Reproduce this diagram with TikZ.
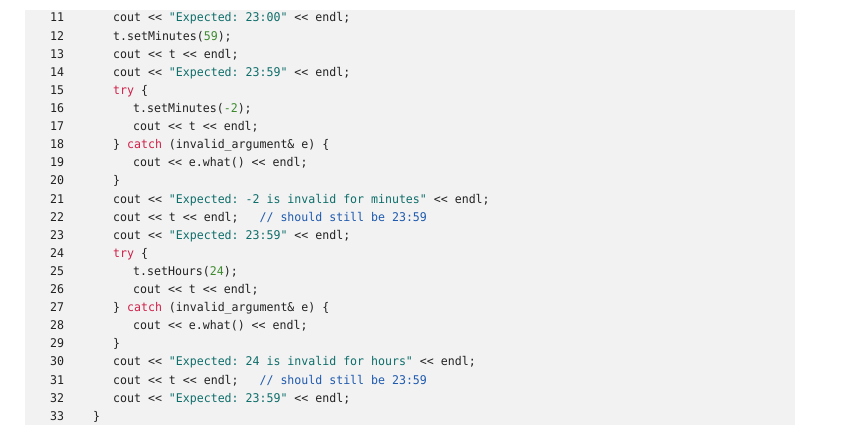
\documentclass[tikz,border=0pt]{standalone}
\usepackage{fontspec}
\setmonofont[FakeStretch=0.965]{DejaVu Sans Mono}
\definecolor{bg}{HTML}{F2F2F2}
\definecolor{str}{HTML}{0E6E6A}
\definecolor{num}{HTML}{3D8A2E}
\definecolor{kw}{HTML}{D0204A}
\definecolor{cm}{HTML}{1F5AAE}
\definecolor{txt}{HTML}{222222}
\newcommand{\Str}[1]{\textcolor{str}{#1}}
\newcommand{\Num}[1]{\textcolor{num}{#1}}
\newcommand{\Kw}[1]{\textcolor{kw}{#1}}
\newcommand{\Cm}[1]{\textcolor{cm}{#1}}
\begin{document}
\begin{tikzpicture}[x=1pt,y=-1pt,
  ln/.style={anchor=base west,inner sep=0pt,font=\ttfamily\fontsize{12}{12}\selectfont,text=txt}]
\useasboundingbox (0,0) rectangle (867,436);
\fill[bg] (25,10) rectangle (795,425) node[coordinate](box){};
\foreach \n/\ind/\code [count=\i from 0] in {
11/0/{cout << \Str{"Expected: 23:00"} << endl;},
12/0/{t.setMinutes(\Num{59});},
13/0/{cout << t << endl;},
14/0/{cout << \Str{"Expected: 23:59"} << endl;},
15/0/{\Kw{try} \{},
16/1/{t.setMinutes(\Num{-2});},
17/1/{cout << t << endl;},
18/0/{\} \Kw{catch} (invalid\_argument\& e) \{},
19/1/{cout << e.what() << endl;},
20/0/{\}},
21/0/{cout << \Str{"Expected: -2 is invalid for minutes"} << endl;},
22/0/{cout << t << endl;\ \ \ \Cm{// should still be 23:59}},
23/0/{cout << \Str{"Expected: 23:59"} << endl;},
24/0/{\Kw{try} \{},
25/1/{t.setHours(\Num{24});},
26/1/{cout << t << endl;},
27/0/{\} \Kw{catch} (invalid\_argument\& e) \{},
28/1/{cout << e.what() << endl;},
29/0/{\}},
30/0/{cout << \Str{"Expected: 24 is invalid for hours"} << endl;},
31/0/{cout << t << endl;\ \ \ \Cm{// should still be 23:59}},
32/0/{cout << \Str{"Expected: 23:59"} << endl;},
33/-1/{\}}} {
  \node[ln] (n\n) at (50,22+\i*18.1) {\n};
  \node[ln] (c\n) at (113+\ind*20,22+\i*18.1) {\code};
}
\end{tikzpicture}
\end{document}
